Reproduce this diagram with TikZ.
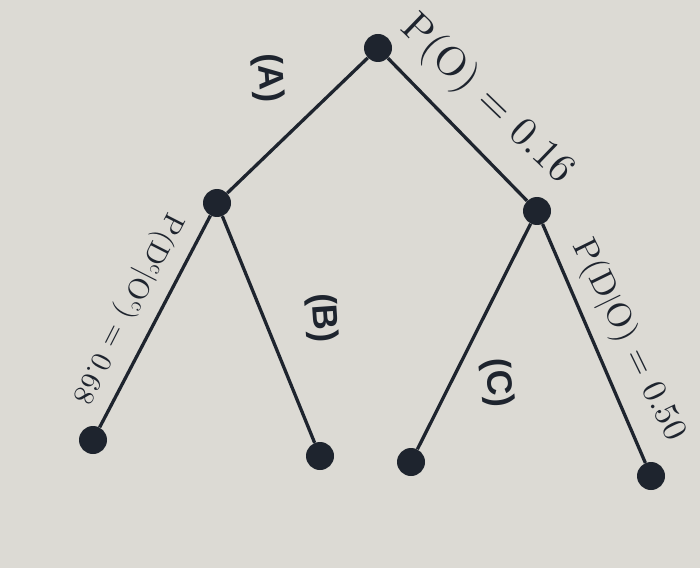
\documentclass[tikz,border=0pt]{standalone}
\usepackage{fontspec}
\newfontfamily\labfont{Liberation Sans}
\newfontfamily\tenrm{lmroman10-regular.otf}
\definecolor{bg}{RGB}{220,218,212}
\definecolor{ink}{RGB}{30,36,46}
\begin{document}
\begin{tikzpicture}[x=0.03cm,y=-0.03cm,
  dot/.style={circle,fill=ink,draw=none,minimum size=28*0.03cm,inner sep=0pt},
  edge/.style={draw=ink,line width=2.8pt},
  lab/.style={text=ink,font=\labfont\bfseries\fontsize{30}{36}\selectfont,inner sep=0pt},
  plab/.style={text=ink,inner sep=0pt}]
\fill[bg] (0,0) rectangle (700,568);
\useasboundingbox (0,0) rectangle (700,568);
\node[dot] (r) at (378,48) {};
\node[dot] (a) at (217,203) {};
\node[dot] (b) at (537,211) {};
\node[dot] (l1) at (93,440) {};
\node[dot] (l2) at (320,456) {};
\node[dot] (l3) at (411,462) {};
\node[dot] (l4) at (651,476) {};
\draw[edge] (r) -- (a);
\draw[edge] (r) -- (b);
\draw[edge] (a) -- (l1);
\draw[edge] (a) -- (l2);
\draw[edge] (b) -- (l3);
\draw[edge] (b) -- (l4);
\node[lab,rotate=-86] (tA) at (268,78) {(A)};
\node[lab,rotate=-86] (tB) at (322,318) {(B)};
\node[lab,rotate=-84] (tC) at (497,383) {(C)};
\node[plab,rotate=-44,font=\tenrm\fontsize{35}{40}\selectfont] (t1) at (487,100) {P(O) = 0.16};
\node[plab,rotate=-64,font=\tenrm\fontsize{29}{34}\selectfont] (t2) at (628,340) {P(D$|$O) = 0.50};
\node[plab,rotate=-117,font=\tenrm\fontsize{25}{30}\selectfont] (t3) at (127,308) {P(D\textsuperscript{c}$|$O\textsuperscript{c}) = 0.68};
\end{tikzpicture}
\end{document}
